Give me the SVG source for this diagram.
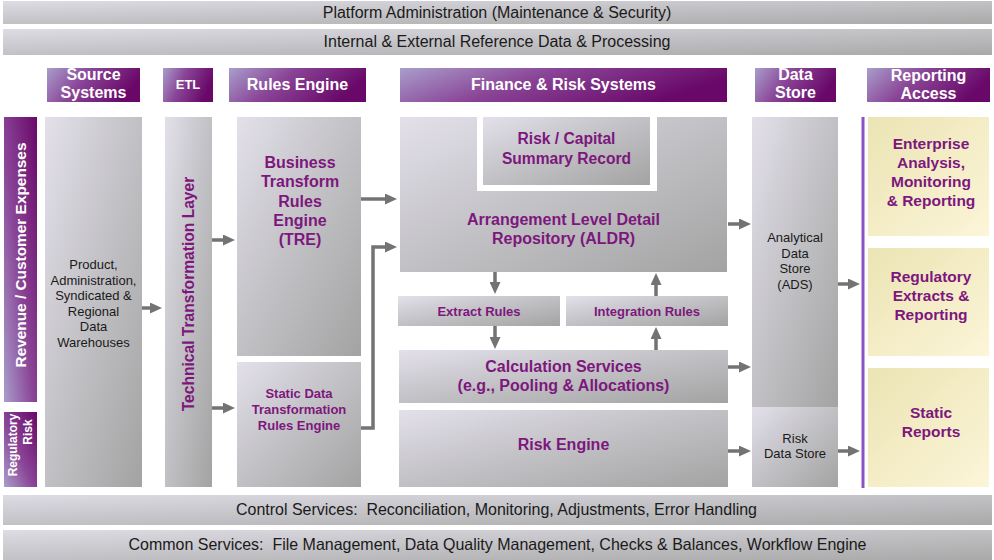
<svg xmlns="http://www.w3.org/2000/svg" width="994" height="560" viewBox="0 0 994 560">
<defs>
<linearGradient id="gGrey" x1="0" y1="0" x2="1" y2="1">
<stop offset="0" stop-color="#e3e0ea"/>
<stop offset="0.5" stop-color="#c1c0c4"/>
<stop offset="1" stop-color="#a3a3a3"/>
</linearGradient>
<linearGradient id="gBar" x1="0" y1="0" x2="1" y2="1">
<stop offset="0" stop-color="#dedce4"/>
<stop offset="0.5" stop-color="#c2c1c5"/>
<stop offset="1" stop-color="#a9a9a9"/>
</linearGradient>
<linearGradient id="gHead" x1="0" y1="0" x2="1" y2="0.3">
<stop offset="0" stop-color="#a99ecb"/>
<stop offset="0.45" stop-color="#8a4597"/>
<stop offset="1" stop-color="#690869"/>
</linearGradient>
<linearGradient id="gSide" x1="0" y1="1" x2="1" y2="0">
<stop offset="0" stop-color="#a99ecb"/>
<stop offset="0.45" stop-color="#8a4597"/>
<stop offset="1" stop-color="#690869"/>
</linearGradient>
<linearGradient id="gYel" x1="0" y1="0" x2="1" y2="1">
<stop offset="0" stop-color="#ebe4b4"/>
<stop offset="1" stop-color="#fcf5d8"/>
</linearGradient>
<marker id="ah" markerWidth="12" markerHeight="11" refX="1" refY="5.5" orient="auto" markerUnits="userSpaceOnUse">
<path d="M0,0 L12,5.5 L0,11 z" fill="#737373"/>
</marker>
<style>
.grey{fill:url(#gGrey)}
.bar{fill:url(#gBar)}
.head{fill:url(#gHead)}
.side{fill:url(#gSide)}
.yel{fill:url(#gYel)}
text{font-family:"Liberation Sans",Arial,sans-serif;text-anchor:middle}
.ht{fill:#ffffff;font-weight:bold;font-size:16px}
.pt{fill:#7d177d;font-weight:bold;font-size:16px}
.ps{fill:#7d177d;font-weight:bold;font-size:13px}
.bt{fill:#1a1a1a;font-size:16px}
.st{fill:#1a1a1a;font-size:13px}
.arr{stroke:#737373;stroke-width:3.5;fill:none;marker-end:url(#ah)}
</style>
</defs>
<rect width="994" height="560" fill="#ffffff"/>

<g id="platform-admin">
<rect class="bar" x="3" y="1" width="989" height="23"/>
<text class="bt" x="497" y="18">Platform Administration (Maintenance &amp; Security)</text>
</g>
<g id="reference-data">
<rect class="bar" x="3" y="29" width="989" height="26"/>
<text class="bt" x="497" y="47">Internal &amp; External Reference Data &amp; Processing</text>
</g>

<g id="hdr-source">
<rect class="head" x="47" y="68" width="93" height="34"/>
<text class="ht" x="93.5" y="80">Source</text>
<text class="ht" x="93.5" y="98">Systems</text>
</g>
<g id="hdr-etl">
<rect class="head" x="163" y="68" width="50" height="34"/>
<text class="ht" x="188" y="89" style="font-size:13px">ETL</text>
</g>
<g id="hdr-rules">
<rect class="head" x="229" y="68" width="137" height="34"/>
<text class="ht" x="297.5" y="90">Rules Engine</text>
</g>
<g id="hdr-finance">
<rect class="head" x="400" y="68" width="327" height="34"/>
<text class="ht" x="563.5" y="90">Finance &amp; Risk Systems</text>
</g>
<g id="hdr-datastore">
<rect class="head" x="755" y="68" width="81" height="34"/>
<text class="ht" x="795.5" y="80">Data</text>
<text class="ht" x="795.5" y="98">Store</text>
</g>
<g id="hdr-reporting">
<rect class="head" x="867" y="68" width="123" height="34"/>
<text class="ht" x="928.5" y="81">Reporting</text>
<text class="ht" x="928.5" y="99">Access</text>
</g>

<g id="revenue">
<rect class="side" x="4" y="117" width="33" height="285"/>
<text class="ht" transform="translate(26,255) rotate(-90)" x="0" y="0" style="font-size:15.4px">Revenue / Customer Expenses</text>
</g>
<g id="regulatory-risk">
<rect class="side" x="4" y="412" width="33" height="75"/>
<text class="ht" transform="translate(16.5,445) rotate(-90)" x="0" y="0" style="font-size:12px">Regulatory</text>
<text class="ht" transform="translate(31.5,432) rotate(-90)" x="0" y="0" style="font-size:12px">Risk</text>
</g>

<g id="source-systems">
<rect class="grey" x="45" y="117" width="97" height="370"/>
<text class="st" x="93.5" y="269">Product,</text>
<text class="st" x="93.5" y="284.5">Administration,</text>
<text class="st" x="93.5" y="300">Syndicated &amp;</text>
<text class="st" x="93.5" y="315.5">Regional</text>
<text class="st" x="93.5" y="331">Data</text>
<text class="st" x="93.5" y="346.5">Warehouses</text>
</g>

<g id="etl-layer">
<rect class="grey" x="165" y="117" width="47" height="370"/>
<text class="pt" transform="translate(194,294) rotate(-90)" x="0" y="0" style="font-size:15.6px">Technical Transformation Layer</text>
</g>

<g id="tre">
<rect class="grey" x="237" y="117" width="124" height="239"/>
<text class="pt" x="300" y="168">Business</text>
<text class="pt" x="300" y="187">Transform</text>
<text class="pt" x="300" y="207">Rules</text>
<text class="pt" x="300" y="226">Engine</text>
<text class="pt" x="300" y="245">(TRE)</text>
</g>

<g id="static-rules">
<rect class="grey" x="237" y="362" width="124" height="125"/>
<text class="ps" x="299" y="398">Static Data</text>
<text class="ps" x="299" y="414">Transformation</text>
<text class="ps" x="299" y="430">Rules Engine</text>
</g>

<g id="aldr">
<rect class="grey" x="400" y="117" width="327" height="155"/>
<rect x="477" y="117" width="180" height="74" fill="#ffffff"/>
<text class="pt" x="563.5" y="225">Arrangement Level Detail</text>
<text class="pt" x="563.5" y="244">Repository (ALDR)</text>
</g>

<g id="risk-capital-summary">
<rect class="grey" x="483" y="117" width="167" height="68"/>
<text class="pt" x="566.5" y="144" style="font-size:15.6px">Risk / Capital</text>
<text class="pt" x="566.5" y="164" style="font-size:15.6px">Summary Record</text>
</g>

<g id="extract-rules">
<rect class="grey" x="398" y="296" width="162" height="30"/>
<text class="ps" x="479" y="315.5">Extract Rules</text>
</g>
<g id="integration-rules">
<rect class="grey" x="566" y="296" width="162" height="30"/>
<text class="ps" x="647" y="315.5">Integration Rules</text>
</g>

<g id="calc-services">
<rect class="grey" x="399" y="350" width="329" height="53"/>
<text class="pt" x="563.5" y="372">Calculation Services</text>
<text class="pt" x="563.5" y="391">(e.g., Pooling &amp; Allocations)</text>
</g>

<g id="risk-engine">
<rect class="grey" x="399" y="410" width="329" height="77"/>
<text class="pt" x="563.5" y="450">Risk Engine</text>
</g>

<g id="ads">
<rect class="grey" x="752" y="117" width="86" height="290"/>
<text class="st" x="795" y="242">Analytical</text>
<text class="st" x="795" y="258">Data</text>
<text class="st" x="795" y="273">Store</text>
<text class="st" x="795" y="289">(ADS)</text>
</g>
<g id="risk-data-store">
<rect class="grey" x="752" y="407" width="86" height="80"/>
<text class="st" x="795" y="443">Risk</text>
<text class="st" x="795" y="458">Data Store</text>
</g>

<g id="access-line">
<rect x="861.5" y="117" width="3" height="371" fill="#8b52c4"/>
</g>

<g id="enterprise-analysis">
<rect class="yel" x="868" y="117" width="121" height="119"/>
<text class="pt" x="931" y="149" style="font-size:15.5px">Enterprise</text>
<text class="pt" x="931" y="168" style="font-size:15.5px">Analysis,</text>
<text class="pt" x="931" y="187" style="font-size:15.5px">Monitoring</text>
<text class="pt" x="931" y="206" style="font-size:15.5px">&amp; Reporting</text>
</g>
<g id="regulatory-extracts">
<rect class="yel" x="868" y="248" width="121" height="108"/>
<text class="pt" x="931" y="282" style="font-size:15.5px">Regulatory</text>
<text class="pt" x="931" y="301" style="font-size:15.5px">Extracts &amp;</text>
<text class="pt" x="931" y="320" style="font-size:15.5px">Reporting</text>
</g>
<g id="static-reports">
<rect class="yel" x="868" y="368" width="121" height="119"/>
<text class="pt" x="931" y="418" style="font-size:15.5px">Static</text>
<text class="pt" x="931" y="437" style="font-size:15.5px">Reports</text>
</g>

<g id="control-services">
<rect class="bar" x="3" y="495" width="989" height="30"/>
<text class="bt" x="496.5" y="515" textLength="521" lengthAdjust="spacingAndGlyphs" style="font-size:16.5px">Control Services:&#160; Reconciliation, Monitoring, Adjustments, Error Handling</text>
</g>
<g id="common-services">
<rect class="bar" x="3" y="530" width="989" height="30"/>
<text class="bt" x="497.5" y="550" textLength="738" lengthAdjust="spacingAndGlyphs" style="font-size:16.5px">Common Services:&#160; File Management, Data Quality Management, Checks &amp; Balances, Workflow Engine</text>
</g>

<g id="connectors">
<path class="arr" d="M142,308 H151"/>
<path class="arr" d="M212,240 H224"/>
<path class="arr" d="M212,408 H224"/>
<path class="arr" d="M361,199 H386"/>
<path class="arr" d="M361,428 H373 V247 H386"/>
<path class="arr" d="M495,272 V283"/>
<path class="arr" d="M495,326 V338"/>
<path class="arr" d="M656,350 V338"/>
<path class="arr" d="M656,296 V284"/>
<path class="arr" d="M728,224 H740"/>
<path class="arr" d="M728,367 H740"/>
<path class="arr" d="M728,451 H740"/>
<path class="arr" d="M838,284 H849"/>
<path class="arr" d="M838,451 H849"/>
</g>
</svg>
